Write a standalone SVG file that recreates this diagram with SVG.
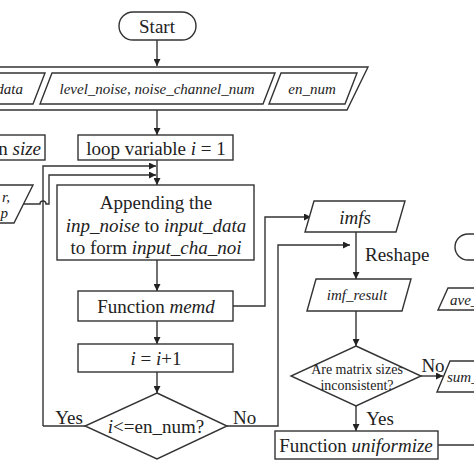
<svg xmlns="http://www.w3.org/2000/svg" width="474" height="474" viewBox="0 0 474 474">
<defs>
<marker id="arr" viewBox="0 0 10 10" refX="10" refY="5" markerWidth="7" markerHeight="7" markerUnits="userSpaceOnUse" orient="auto">
<path d="M0,0 L10,5 L0,10 z" fill="#222"/>
</marker>
<style>
.s{fill:#fff;stroke:#333;stroke-width:1.4}
.c{fill:none;stroke:#333;stroke-width:1.4}
.a{fill:none;stroke:#333;stroke-width:1.4;marker-end:url(#arr)}
text{font-family:'Liberation Serif','Times New Roman',serif;fill:#222;font-size:19px;text-anchor:middle;dominant-baseline:central}
.i{font-style:italic}
.sm{font-size:15px}
.xs{font-size:14px}
</style>
</defs>
<rect width="474" height="474" fill="#fff"/>
<g id="connectors">
<path class="a" d="M157,40 V66"/>
<path class="a" d="M157,110 V135"/>
<path class="a" d="M157,160 V185"/>
<path class="a" d="M43,426 V166 H156"/>
<path class="a" d="M23.5,204 H40 A3,3 0 0 1 46,204 H49 V175 H156"/>
<path class="a" d="M157,260 V291"/>
<path class="a" d="M157,321 V344"/>
<path class="a" d="M157,372 V393"/>
<path class="c" d="M85,426 H43"/>
<path class="a" d="M227,426 H278 V245 H350"/>
<path class="a" d="M233,306 H265 V217 H311"/>
<path class="a" d="M356,232 V279"/>
<path class="a" d="M356,311 V346"/>
<path class="a" d="M421,376 H443"/>
<path class="a" d="M356,406 V431"/>
<path class="c" d="M438,445 H474"/>
</g>
<g id="start">
<rect class="s" x="119" y="12" width="77" height="28" rx="14"/>
<text x="157" y="26">Start</text>
</g>
<g id="inputs">
<polygon class="s" points="-20,67 368,67 347,110 -41,110"/>
<polygon class="s" points="-60,73 45,73 33,104 -72,104"/>
<text class="i sm" x="23" y="89" style="text-anchor:end">data</text>
<polygon class="s" points="52,73 275,73 263,104 40,104"/>
<text class="i sm" x="157" y="89">level_noise, noise_channel_num</text>
<polygon class="s" points="281,73 357,73 345,104 269,104"/>
<text class="i sm" x="312" y="89">en_num</text>
</g>
<g id="size">
<rect class="s" x="-50" y="135" width="95" height="25"/>
<text x="41" y="148" style="text-anchor:end">n <tspan class="i">size</tspan></text>
</g>
<g id="noise-input">
<polygon class="s" points="-60,185 33,185 14,223 -80,223"/>
<text class="i sm" x="10" y="197" style="text-anchor:end">r,</text>
<text class="i sm" x="8" y="213" style="text-anchor:end">p</text>
</g>
<g id="loop-init">
<rect class="s" x="78" y="135" width="155" height="25"/>
<text x="156" y="148">loop variable <tspan class="i">i</tspan> = 1</text>
</g>
<g id="append">
<rect class="s" x="57" y="185" width="197" height="75"/>
<text x="156" y="202">Appending the</text>
<text x="156" y="225"><tspan class="i">inp_noise</tspan> to <tspan class="i">input_data</tspan></text>
<text x="156" y="247">to form <tspan class="i">input_cha_noi</tspan></text>
</g>
<g id="memd">
<rect class="s" x="78" y="291" width="155" height="30"/>
<text x="156" y="306">Function <tspan class="i">memd</tspan></text>
</g>
<g id="increment">
<rect class="s" x="78" y="344" width="155" height="28"/>
<text x="156" y="358"><tspan class="i">i</tspan> = <tspan class="i">i</tspan>+1</text>
</g>
<g id="loop-check">
<polygon class="s" points="157,393 227,426 157,459 85,426"/>
<text x="156" y="426"><tspan class="i">i</tspan>&lt;=en_num?</text>
<text x="69" y="417">Yes</text>
<text x="233" y="417" style="text-anchor:start">No</text>
</g>
<g id="imfs">
<polygon class="s" points="314,201 405,201 396,232 305,232"/>
<text class="i" x="355" y="217">imfs</text>
<text x="365" y="254" style="text-anchor:start">Reshape</text>
</g>
<g id="imf-result">
<polygon class="s" points="316,279 411,279 402,311 307,311"/>
<text class="i sm" x="357" y="295">imf_result</text>
</g>
<g id="size-check">
<polygon class="s" points="356,346 421,376 356,406 291,376"/>
<text class="xs" x="357" y="369">Are matrix sizes</text>
<text class="xs" x="357" y="385">inconsistent?</text>
<text x="433" y="365">No</text>
<text x="380" y="418">Yes</text>
</g>
<g id="uniformize">
<rect class="s" x="275" y="431" width="163" height="28"/>
<text x="356" y="445">Function <tspan class="i">uniformize</tspan></text>
</g>
<g id="end-terminal">
<rect class="s" x="455" y="234" width="60" height="26" rx="13"/>
</g>
<g id="ave">
<polygon class="s" points="448,288 520,288 510,310 438,310"/>
<text class="i sm" x="450" y="300" style="text-anchor:start">ave_</text>
</g>
<g id="sum">
<polygon class="s" points="450,361 520,361 507,392 437,392"/>
<text class="i sm" x="447" y="377" style="text-anchor:start">sum_</text>
</g>
</svg>
